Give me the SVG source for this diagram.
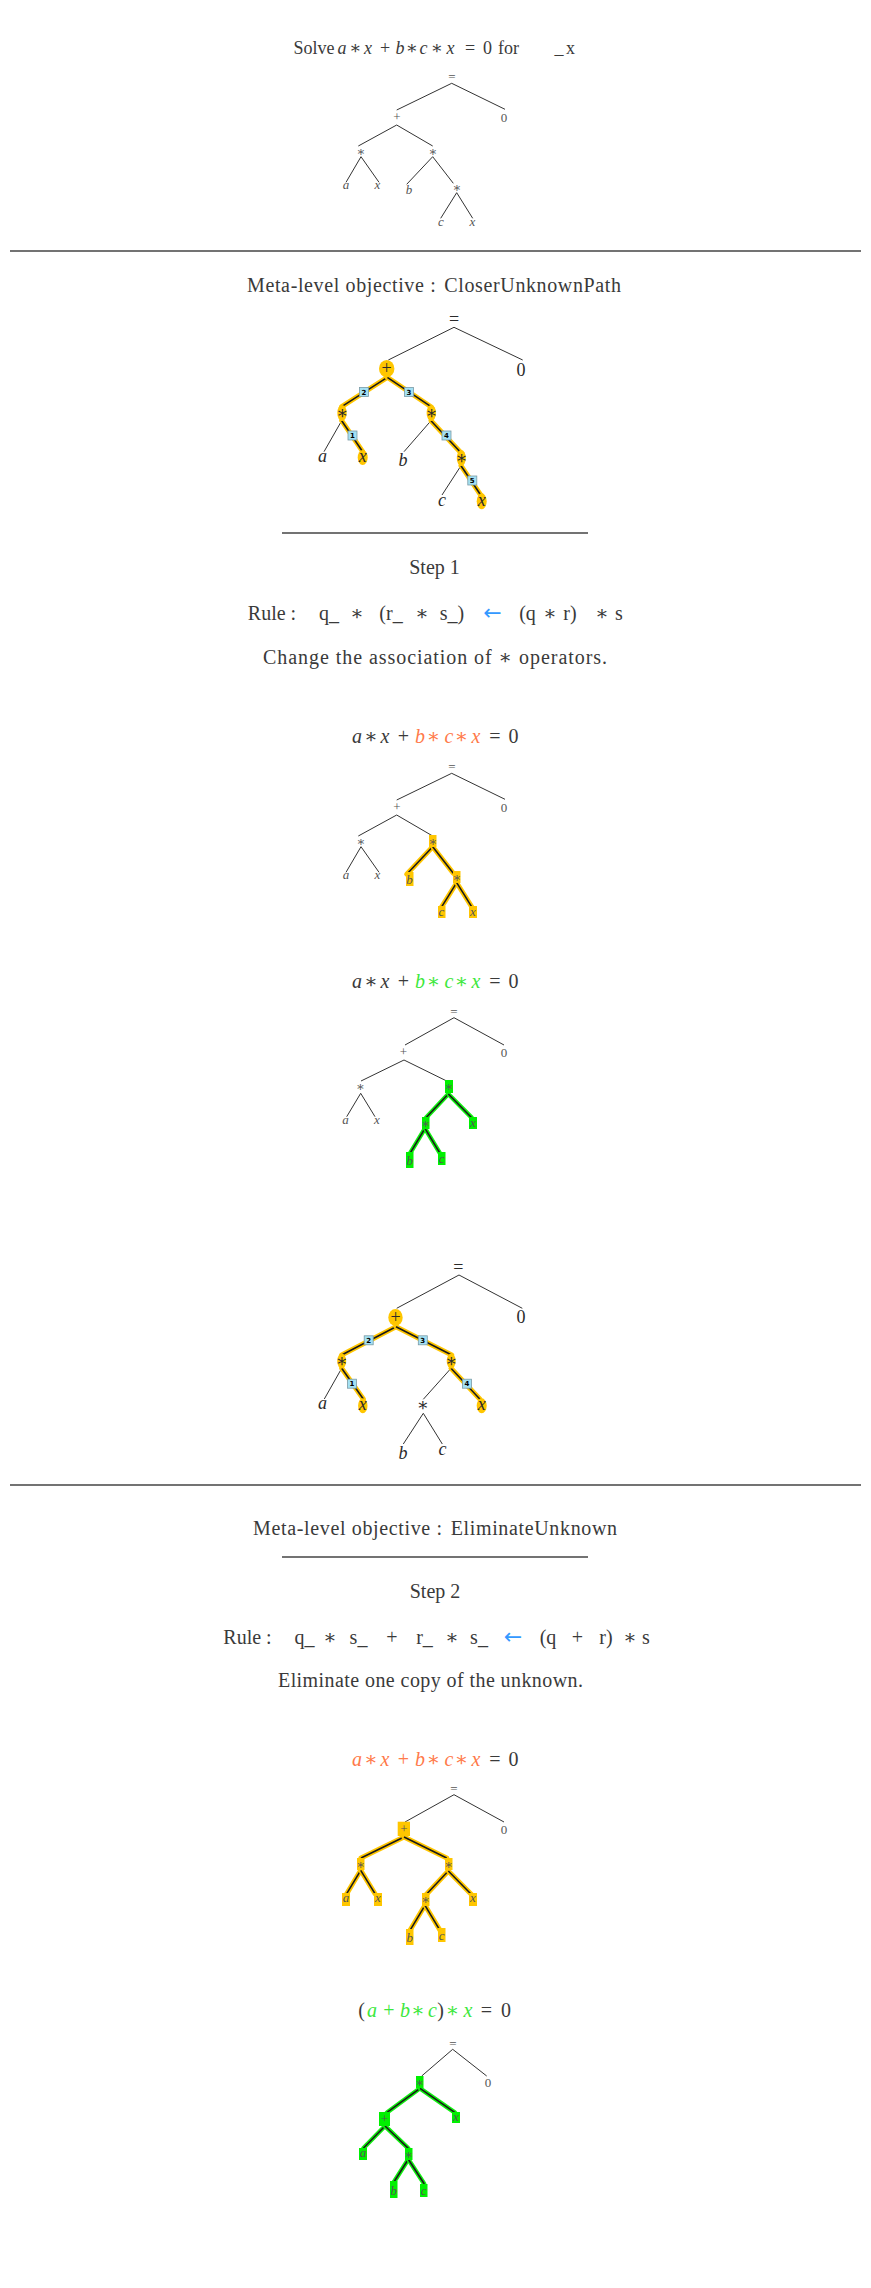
<svg xmlns="http://www.w3.org/2000/svg" width="871" height="2288" viewBox="0 0 871 2288">
<style>
.t{font-family:"Liberation Serif","DejaVu Serif",serif;fill:#3a3a3a;text-anchor:middle}
.i{font-style:italic}
.s{font-size:13px;fill:#555}
.b{font-size:18px;fill:#2a2a2a}
.e{stroke:#333;stroke-width:1;fill:none}
.hy{stroke:#ffc600;stroke-width:5;stroke-linecap:round}
.hg{stroke:#10f010;stroke-width:4.5;stroke-linecap:round}
.hk{stroke:#1a1a1a;stroke-width:1.6}
.sep{stroke:#444;stroke-width:1.3}
.lb rect{fill:#a3e0f4;stroke:#7b9ba6;stroke-width:0.8}
.lb text{font-family:"DejaVu Sans",sans-serif;font-size:7px;font-weight:bold;fill:#000;text-anchor:middle}
.yf{fill:#ffc600}
.gf{fill:#00f000}
.or{fill:#ff7a4a}
.gr{fill:#3ce83c}
.ar{fill:#3399ff;font-family:"DejaVu Sans",sans-serif;font-size:22px}
</style>
<rect width="871" height="2288" fill="#fff"/>

<!-- Headings and text -->
<g id="texts">
<text class="t" y="54" font-size="18"><tspan x="314">Solve</tspan><tspan x="342" class="i">a</tspan><tspan x="355">∗</tspan><tspan x="368" class="i">x</tspan><tspan x="385">+</tspan><tspan x="400" class="i">b</tspan><tspan x="411.5">∗</tspan><tspan x="423.5" class="i">c</tspan><tspan x="436.5">∗</tspan><tspan x="450.5" class="i">x</tspan><tspan x="470">=</tspan><tspan x="487.5">0</tspan><tspan x="508.5">for</tspan><tspan x="559">_</tspan><tspan x="570.5">x</tspan></text>
<text class="t" x="434" y="292" font-size="20" textLength="374" lengthAdjust="spacing">Meta-level objective :<tspan dx="8">CloserUnknownPath</tspan></text>
<text class="t" x="434.5" y="574" font-size="20">Step 1</text>
<text class="t" y="620" font-size="20"><tspan x="272">Rule :</tspan><tspan x="329">q_</tspan><tspan x="357">∗</tspan><tspan x="391">(r_</tspan><tspan x="422">∗</tspan><tspan x="452">s_)</tspan><tspan x="492.5" class="ar">←</tspan><tspan x="527.5">(q</tspan><tspan x="550">∗</tspan><tspan x="570">r)</tspan><tspan x="602">∗</tspan><tspan x="619">s</tspan></text>
<text class="t" x="435" y="664" font-size="20" textLength="344" lengthAdjust="spacing">Change the association of ∗ operators.</text>

<text class="t" y="743" font-size="20"><tspan x="357" class="i">a</tspan><tspan x="371">∗</tspan><tspan x="385" class="i">x</tspan><tspan x="403.5">+</tspan><tspan x="420" class="i or">b</tspan><tspan x="433.5" class="or">∗</tspan><tspan x="449" class="i or">c</tspan><tspan x="461.5" class="or">∗</tspan><tspan x="476" class="i or">x</tspan><tspan x="495">=</tspan><tspan x="513.5">0</tspan></text>

<text class="t" y="988" font-size="20"><tspan x="357" class="i">a</tspan><tspan x="371">∗</tspan><tspan x="385" class="i">x</tspan><tspan x="403.5">+</tspan><tspan x="420" class="i gr">b</tspan><tspan x="433.5" class="gr">∗</tspan><tspan x="449" class="i gr">c</tspan><tspan x="461.5" class="gr">∗</tspan><tspan x="476" class="i gr">x</tspan><tspan x="495">=</tspan><tspan x="513.5">0</tspan></text>

<text class="t" x="435" y="1535" font-size="20" textLength="364" lengthAdjust="spacing">Meta-level objective :<tspan dx="8">EliminateUnknown</tspan></text>
<text class="t" x="435" y="1598" font-size="20">Step 2</text>
<text class="t" y="1644" font-size="20"><tspan x="247.5">Rule :</tspan><tspan x="304.5">q_</tspan><tspan x="330">∗</tspan><tspan x="358.5">s_</tspan><tspan x="392">+</tspan><tspan x="424.5">r_</tspan><tspan x="452">∗</tspan><tspan x="479">s_</tspan><tspan x="513" class="ar">←</tspan><tspan x="548">(q</tspan><tspan x="577.5">+</tspan><tspan x="606">r)</tspan><tspan x="630">∗</tspan><tspan x="646">s</tspan></text>
<text class="t" x="430.5" y="1687" font-size="20" textLength="305" lengthAdjust="spacing">Eliminate one copy of the unknown.</text>

<text class="t" y="1766" font-size="20"><tspan x="357" class="i or">a</tspan><tspan x="371" class="or">∗</tspan><tspan x="385" class="i or">x</tspan><tspan x="403.5" class="or">+</tspan><tspan x="420" class="i or">b</tspan><tspan x="433.5" class="or">∗</tspan><tspan x="449" class="i or">c</tspan><tspan x="461.5" class="or">∗</tspan><tspan x="476" class="i or">x</tspan><tspan x="495">=</tspan><tspan x="513.5">0</tspan></text>

<text class="t" y="2017" font-size="20"><tspan x="361.5">(</tspan><tspan x="372" class="i gr">a</tspan><tspan x="389" class="gr">+</tspan><tspan x="405" class="i gr">b</tspan><tspan x="418" class="gr">∗</tspan><tspan x="432.5" class="i gr">c</tspan><tspan x="440.5">)</tspan><tspan x="452.5" class="gr">∗</tspan><tspan x="468" class="i gr">x</tspan><tspan x="486.5">=</tspan><tspan x="506">0</tspan></text>
</g>

<g id="separators">
<line class="sep" x1="10" y1="251" x2="861" y2="251"/>
<line class="sep" x1="282" y1="533" x2="588" y2="533"/>
<line class="sep" x1="10" y1="1485" x2="861" y2="1485"/>
<line class="sep" x1="282" y1="1557" x2="588" y2="1557"/>
</g>

<!-- Connectors -->
<g id="connectors">
<g id="t1-edges">
<line class="e" x1="451.7" y1="83.3" x2="396.7" y2="110"/>
<line class="e" x1="451.7" y1="83.3" x2="505" y2="109.3"/>
<line class="e" x1="396.7" y1="125" x2="358.3" y2="146"/>
<line class="e" x1="396.7" y1="125" x2="432.7" y2="146"/>
<line class="e" x1="361" y1="156.7" x2="346" y2="182.3"/>
<line class="e" x1="361" y1="156.7" x2="379" y2="182.3"/>
<line class="e" x1="432.7" y1="156.7" x2="406.7" y2="184.3"/>
<line class="e" x1="432.7" y1="156.7" x2="453.3" y2="183.3"/>
<line class="e" x1="456.7" y1="192.7" x2="440.7" y2="218.3"/>
<line class="e" x1="456.7" y1="192.7" x2="472.7" y2="218.3"/>
</g>
<g id="t2-edges">
<line class="e" x1="454" y1="327.3" x2="388.3" y2="360"/>
<line class="e" x1="454" y1="327.3" x2="522.7" y2="360"/>
<line class="hy" x1="387.3" y1="377.3" x2="341.7" y2="406.7"/>
<line class="e hk" x1="387.3" y1="377.3" x2="341.7" y2="406.7"/>
<line class="hy" x1="387.3" y1="377.3" x2="431" y2="406.7"/>
<line class="e hk" x1="387.3" y1="377.3" x2="431" y2="406.7"/>
<line class="e" x1="341.7" y1="420.7" x2="324" y2="451.7"/>
<line class="hy" x1="341.7" y1="420.7" x2="362.7" y2="451.7"/>
<line class="e hk" x1="341.7" y1="420.7" x2="362.7" y2="451.7"/>
<line class="e" x1="431" y1="420.7" x2="404" y2="451.7"/>
<line class="hy" x1="431" y1="420.7" x2="460" y2="451.7"/>
<line class="e hk" x1="431" y1="420.7" x2="460" y2="451.7"/>
<line class="e" x1="461" y1="465.7" x2="442" y2="495"/>
<line class="hy" x1="461" y1="465.7" x2="480.7" y2="495"/>
<line class="e hk" x1="461" y1="465.7" x2="480.7" y2="495"/>
<g class="lb"><rect x="359.5" y="387.5" width="9" height="9"/><text x="364" y="394.5">2</text></g>
<g class="lb"><rect x="404.5" y="387.5" width="9" height="9"/><text x="409" y="394.5">3</text></g>
<g class="lb"><rect x="348" y="431" width="9" height="9"/><text x="352.5" y="438">1</text></g>
<g class="lb"><rect x="442" y="431" width="9" height="9"/><text x="446.5" y="438">4</text></g>
<g class="lb"><rect x="467.8" y="476" width="9" height="9"/><text x="472.3" y="483">5</text></g>
</g>
<g id="t3-edges">
<line class="e" x1="451.7" y1="773.3" x2="396.7" y2="800"/>
<line class="e" x1="451.7" y1="773.3" x2="505" y2="799.3"/>
<line class="e" x1="396.7" y1="815" x2="358.3" y2="836"/>
<line class="e" x1="396.7" y1="815" x2="432.7" y2="836"/>
<line class="e" x1="361" y1="846.7" x2="346" y2="872.3"/>
<line class="e" x1="361" y1="846.7" x2="379" y2="872.3"/>
<line class="hy" x1="432.7" y1="846.7" x2="406.7" y2="874.3"/>
<line class="e hk" x1="432.7" y1="846.7" x2="406.7" y2="874.3"/>
<line class="hy" x1="432.7" y1="846.7" x2="453.3" y2="873.3"/>
<line class="e hk" x1="432.7" y1="846.7" x2="453.3" y2="873.3"/>
<line class="hy" x1="456.7" y1="882.7" x2="440.7" y2="908.3"/>
<line class="e hk" x1="456.7" y1="882.7" x2="440.7" y2="908.3"/>
<line class="hy" x1="456.7" y1="882.7" x2="472.7" y2="908.3"/>
<line class="e hk" x1="456.7" y1="882.7" x2="472.7" y2="908.3"/>
</g>
<g id="t4-edges">
<line class="e" x1="454" y1="1017.7" x2="405" y2="1045"/>
<line class="e" x1="454" y1="1017.7" x2="504" y2="1045"/>
<line class="e" x1="404" y1="1060" x2="361" y2="1081"/>
<line class="e" x1="404" y1="1060" x2="446.7" y2="1081"/>
<line class="e" x1="360.7" y1="1093.3" x2="346.7" y2="1116.7"/>
<line class="e" x1="360.7" y1="1093.3" x2="375" y2="1116.7"/>
<line class="hg" x1="448.3" y1="1094" x2="426" y2="1117.7"/>
<line class="e hk" x1="448.3" y1="1094" x2="426" y2="1117.7"/>
<line class="hg" x1="448.3" y1="1094" x2="471.7" y2="1117.7"/>
<line class="e hk" x1="448.3" y1="1094" x2="471.7" y2="1117.7"/>
<line class="hg" x1="425" y1="1128.3" x2="410" y2="1153.3"/>
<line class="e hk" x1="425" y1="1128.3" x2="410" y2="1153.3"/>
<line class="hg" x1="425" y1="1128.3" x2="440" y2="1153.3"/>
<line class="e hk" x1="425" y1="1128.3" x2="440" y2="1153.3"/>
</g>
<g id="t5-edges">
<line class="e" x1="459" y1="1275" x2="396.7" y2="1308.3"/>
<line class="e" x1="459" y1="1275" x2="522.3" y2="1308.3"/>
<line class="hy" x1="396" y1="1326.7" x2="341.7" y2="1355"/>
<line class="e hk" x1="396" y1="1326.7" x2="341.7" y2="1355"/>
<line class="hy" x1="396" y1="1326.7" x2="451.7" y2="1355"/>
<line class="e hk" x1="396" y1="1326.7" x2="451.7" y2="1355"/>
<line class="e" x1="341.7" y1="1368.3" x2="324.3" y2="1399"/>
<line class="hy" x1="341.7" y1="1368.3" x2="363.3" y2="1399"/>
<line class="e hk" x1="341.7" y1="1368.3" x2="363.3" y2="1399"/>
<line class="e" x1="451" y1="1368.3" x2="423.3" y2="1399.3"/>
<line class="hy" x1="451" y1="1368.3" x2="480" y2="1399.3"/>
<line class="e hk" x1="451" y1="1368.3" x2="480" y2="1399.3"/>
<line class="e" x1="423.3" y1="1413.3" x2="403.3" y2="1444"/>
<line class="e" x1="423.3" y1="1413.3" x2="442.3" y2="1444"/>
<g class="lb"><rect x="364.2" y="1335.8" width="9" height="9"/><text x="368.7" y="1342.8">2</text></g>
<g class="lb"><rect x="418.3" y="1335.8" width="9" height="9"/><text x="422.8" y="1342.8">3</text></g>
<g class="lb"><rect x="347.5" y="1379.2" width="9" height="9"/><text x="352" y="1386.2">1</text></g>
<g class="lb"><rect x="462.5" y="1379.2" width="9" height="9"/><text x="467" y="1386.2">4</text></g>
</g>
<g id="t6-edges">
<line class="e" x1="454" y1="1794.7" x2="405" y2="1822"/>
<line class="e" x1="454" y1="1794.7" x2="504" y2="1822"/>
<line class="hy" x1="404" y1="1837" x2="361" y2="1858"/>
<line class="e hk" x1="404" y1="1837" x2="361" y2="1858"/>
<line class="hy" x1="404" y1="1837" x2="446.7" y2="1858"/>
<line class="e hk" x1="404" y1="1837" x2="446.7" y2="1858"/>
<line class="hy" x1="360.7" y1="1870.3" x2="346.7" y2="1893.7"/>
<line class="e hk" x1="360.7" y1="1870.3" x2="346.7" y2="1893.7"/>
<line class="hy" x1="360.7" y1="1870.3" x2="375" y2="1893.7"/>
<line class="e hk" x1="360.7" y1="1870.3" x2="375" y2="1893.7"/>
<line class="hy" x1="448.3" y1="1871" x2="426" y2="1894.7"/>
<line class="e hk" x1="448.3" y1="1871" x2="426" y2="1894.7"/>
<line class="hy" x1="448.3" y1="1871" x2="471.7" y2="1894.7"/>
<line class="e hk" x1="448.3" y1="1871" x2="471.7" y2="1894.7"/>
<line class="hy" x1="425" y1="1905.3" x2="410" y2="1930.3"/>
<line class="e hk" x1="425" y1="1905.3" x2="410" y2="1930.3"/>
<line class="hy" x1="425" y1="1905.3" x2="440" y2="1930.3"/>
<line class="e hk" x1="425" y1="1905.3" x2="440" y2="1930.3"/>
</g>
<g id="t7-edges">
<line class="e" x1="452.7" y1="2049.3" x2="421.7" y2="2076"/>
<line class="e" x1="452.7" y1="2049.3" x2="486.7" y2="2076"/>
<line class="hg" x1="420" y1="2088.3" x2="386.7" y2="2112.7"/>
<line class="e hk" x1="420" y1="2088.3" x2="386.7" y2="2112.7"/>
<line class="hg" x1="420" y1="2088.3" x2="455" y2="2112.7"/>
<line class="e hk" x1="420" y1="2088.3" x2="455" y2="2112.7"/>
<line class="hg" x1="385" y1="2126" x2="363.3" y2="2148.3"/>
<line class="e hk" x1="385" y1="2126" x2="363.3" y2="2148.3"/>
<line class="hg" x1="385" y1="2126" x2="408.3" y2="2148.3"/>
<line class="e hk" x1="385" y1="2126" x2="408.3" y2="2148.3"/>
<line class="hg" x1="408.3" y1="2159.3" x2="393.3" y2="2183"/>
<line class="e hk" x1="408.3" y1="2159.3" x2="393.3" y2="2183"/>
<line class="hg" x1="408.3" y1="2159.3" x2="424.3" y2="2184"/>
<line class="e hk" x1="408.3" y1="2159.3" x2="424.3" y2="2184"/>
</g>
</g>

<!-- Tree 1 nodes -->
<g id="t1-eq"><text class="t s" x="452" y="81">=</text></g>
<g id="t1-plus"><text class="t s" x="397" y="121">+</text></g>
<g id="t1-zero"><text class="t s" x="504" y="122">0</text></g>
<g id="t1-mulL"><text class="t s" x="361" y="155.5">∗</text></g>
<g id="t1-mulR"><text class="t s" x="433" y="155.5">∗</text></g>
<g id="t1-a"><text class="t s i" x="346" y="189">a</text></g>
<g id="t1-x1"><text class="t s i" x="377.5" y="189">x</text></g>
<g id="t1-b"><text class="t s i" x="409" y="194">b</text></g>
<g id="t1-mul2"><text class="t s" x="457" y="191.5">∗</text></g>
<g id="t1-c"><text class="t s i" x="441" y="226">c</text></g>
<g id="t1-x2"><text class="t s i" x="472.5" y="226">x</text></g>

<!-- Tree 2 nodes -->
<g id="t2-eq"><text class="t b" x="454" y="325">=</text></g>
<g id="t2-plus"><ellipse class="yf" cx="386.7" cy="368.7" rx="7.7" ry="8.7"/><text class="t b" x="386.7" y="374">+</text></g>
<g id="t2-zero"><text class="t b" x="521" y="376">0</text></g>
<g id="t2-mulL"><ellipse class="yf" cx="342" cy="413" rx="4.7" ry="8"/><text class="t b" x="342" y="419">∗</text></g>
<g id="t2-mulR"><ellipse class="yf" cx="431.3" cy="413" rx="4.7" ry="8"/><text class="t b" x="431.3" y="419">∗</text></g>
<g id="t2-a"><text class="t b i" x="322.5" y="462">a</text></g>
<g id="t2-x1"><ellipse class="yf" cx="362.7" cy="457.5" rx="5" ry="7.5"/><text class="t b i" x="362.7" y="462">x</text></g>
<g id="t2-b"><text class="t b i" x="403" y="465.5">b</text></g>
<g id="t2-mul2"><ellipse class="yf" cx="461.3" cy="458" rx="4.5" ry="8"/><text class="t b" x="461.3" y="464">∗</text></g>
<g id="t2-c"><text class="t b i" x="442" y="506">c</text></g>
<g id="t2-x2"><ellipse class="yf" cx="481.7" cy="501.3" rx="5" ry="8"/><text class="t b i" x="481.7" y="506">x</text></g>

<!-- Tree 3 nodes -->
<g id="t3-eq"><text class="t s" x="452" y="771">=</text></g>
<g id="t3-plus"><text class="t s" x="397" y="811">+</text></g>
<g id="t3-zero"><text class="t s" x="504" y="812">0</text></g>
<g id="t3-mulL"><text class="t s" x="361" y="845.5">∗</text></g>
<g id="t3-mulR"><rect class="yf" x="429" y="835" width="7.5" height="12"/><text class="t s" x="433" y="845.5">∗</text></g>
<g id="t3-a"><text class="t s i" x="346" y="879">a</text></g>
<g id="t3-x1"><text class="t s i" x="377.5" y="879">x</text></g>
<g id="t3-b"><rect class="yf" x="406" y="872" width="7.5" height="14"/><text class="t s i" x="409.5" y="884">b</text></g>
<g id="t3-mul2"><rect class="yf" x="453" y="871" width="7.5" height="12"/><text class="t s" x="457" y="881.5">∗</text></g>
<g id="t3-c"><rect class="yf" x="438" y="906" width="7.5" height="12"/><text class="t s i" x="441.5" y="916">c</text></g>
<g id="t3-x2"><rect class="yf" x="469" y="906" width="8" height="12"/><text class="t s i" x="473" y="916">x</text></g>

<!-- Tree 4 nodes -->
<g id="t4-eq"><text class="t s" x="454" y="1016">=</text></g>
<g id="t4-plus"><text class="t s" x="403.5" y="1056">+</text></g>
<g id="t4-zero"><text class="t s" x="504" y="1057">0</text></g>
<g id="t4-mulL"><text class="t s" x="360.5" y="1091">∗</text></g>
<g id="t4-mulR"><rect class="gf" x="445" y="1080" width="8" height="13"/><text class="t s" x="449" y="1091">∗</text></g>
<g id="t4-a"><text class="t s i" x="345.5" y="1124">a</text></g>
<g id="t4-x1"><text class="t s i" x="377" y="1124">x</text></g>
<g id="t4-mulM"><rect class="gf" x="422" y="1117" width="7.5" height="12"/><text class="t s" x="425.7" y="1127.5">∗</text></g>
<g id="t4-x2"><rect class="gf" x="469" y="1117" width="8" height="12"/><text class="t s i" x="473" y="1127">x</text></g>
<g id="t4-b"><rect class="gf" x="406" y="1152" width="7.5" height="16"/><text class="t s i" x="409.7" y="1165">b</text></g>
<g id="t4-c"><rect class="gf" x="438" y="1152" width="7.5" height="13"/><text class="t s i" x="441.7" y="1163">c</text></g>

<!-- Tree 5 nodes -->
<g id="t5-eq"><text class="t b" x="458.3" y="1273">=</text></g>
<g id="t5-plus"><ellipse class="yf" cx="395.5" cy="1317.5" rx="7.2" ry="8.5"/><text class="t b" x="395.5" y="1323">+</text></g>
<g id="t5-zero"><text class="t b" x="521" y="1323">0</text></g>
<g id="t5-mulL"><ellipse class="yf" cx="341.7" cy="1361" rx="4.5" ry="7.5"/><text class="t b" x="341.7" y="1367">∗</text></g>
<g id="t5-mulR"><ellipse class="yf" cx="451.2" cy="1361" rx="4.5" ry="7.5"/><text class="t b" x="451.2" y="1367">∗</text></g>
<g id="t5-a"><text class="t b i" x="322.5" y="1409">a</text></g>
<g id="t5-x1"><ellipse class="yf" cx="362.8" cy="1405.8" rx="4.7" ry="7.5"/><text class="t b i" x="362.8" y="1409.5">x</text></g>
<g id="t5-mulM"><text class="t b" x="422.5" y="1410.5">∗</text></g>
<g id="t5-x2"><ellipse class="yf" cx="481.7" cy="1405.8" rx="5" ry="7.5"/><text class="t b i" x="481.7" y="1409.5">x</text></g>
<g id="t5-b"><text class="t b i" x="403" y="1459">b</text></g>
<g id="t5-c"><text class="t b i" x="442.5" y="1455">c</text></g>

<!-- Tree 6 nodes -->
<g id="t6-eq"><text class="t s" x="454" y="1793">=</text></g>
<g id="t6-plus"><rect class="yf" x="397.7" y="1821.7" width="12.3" height="14.3"/><text class="t s" x="403.8" y="1833">+</text></g>
<g id="t6-zero"><text class="t s" x="504" y="1834">0</text></g>
<g id="t6-mulL"><rect class="yf" x="357" y="1858" width="7.5" height="12"/><text class="t s" x="360.7" y="1868.5">∗</text></g>
<g id="t6-mulR"><rect class="yf" x="445" y="1858" width="7.5" height="12"/><text class="t s" x="448.7" y="1868.5">∗</text></g>
<g id="t6-a"><rect class="yf" x="342" y="1893" width="8" height="13"/><text class="t s i" x="346" y="1902">a</text></g>
<g id="t6-x1"><rect class="yf" x="374" y="1893" width="8" height="13"/><text class="t s i" x="378" y="1902">x</text></g>
<g id="t6-mulM"><rect class="yf" x="422" y="1893" width="7.5" height="13"/><text class="t s" x="425.7" y="1904">∗</text></g>
<g id="t6-x2"><rect class="yf" x="469" y="1893" width="8" height="13"/><text class="t s i" x="473" y="1902">x</text></g>
<g id="t6-b"><rect class="yf" x="406" y="1929" width="7.5" height="16"/><text class="t s i" x="409.7" y="1942">b</text></g>
<g id="t6-c"><rect class="yf" x="438" y="1928" width="7.5" height="14"/><text class="t s i" x="441.7" y="1940">c</text></g>

<!-- Tree 7 nodes -->
<g id="t7-eq"><text class="t s" x="453" y="2047.5">=</text></g>
<g id="t7-mul"><rect class="gf" x="416" y="2076" width="7.5" height="12"/><text class="t s" x="419.7" y="2086.5">∗</text></g>
<g id="t7-zero"><text class="t s" x="488" y="2087">0</text></g>
<g id="t7-plus"><rect class="gf" x="379" y="2112" width="11" height="14"/><text class="t s" x="384.5" y="2123">+</text></g>
<g id="t7-x"><rect class="gf" x="452" y="2112" width="8" height="11"/><text class="t s i" x="456" y="2121">x</text></g>
<g id="t7-a"><rect class="gf" x="359" y="2148" width="8" height="12"/><text class="t s i" x="363" y="2157">a</text></g>
<g id="t7-mul2"><rect class="gf" x="405" y="2148" width="7.5" height="12"/><text class="t s" x="408.7" y="2158.5">∗</text></g>
<g id="t7-b"><rect class="gf" x="390" y="2181" width="7.5" height="17"/><text class="t s i" x="393.7" y="2195">b</text></g>
<g id="t7-c"><rect class="gf" x="420" y="2184" width="7.5" height="13"/><text class="t s i" x="423.7" y="2195">c</text></g>
</svg>
